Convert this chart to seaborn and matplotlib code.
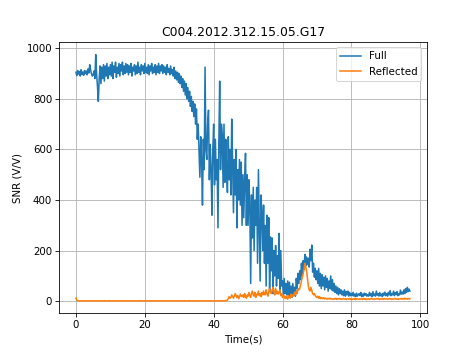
import numpy as np
import pandas as pd
import matplotlib
matplotlib.use("Agg")
import matplotlib.pyplot as plt
import seaborn as sns

title = "C004.2012.312.15.05.G17"
series_names = ["Full", "Reflected"]

# time samples every 0.25 s from 0 to 97 s
time_s = np.arange(0, 97.01, 0.25)

full_snr = [
    905, 892, 912, 898, 908, 890, 915, 896, 906, 893, 912, 900, 910, 895, 918, 902, 935, 915, 900, 890,
    895, 910, 880, 975, 900, 850, 790, 880, 930, 860, 925, 880, 935, 870, 930, 890, 940, 880, 925, 895,
    935, 890, 945, 880, 930, 905, 945, 885, 925, 900, 940, 890, 935, 910, 945, 895, 930, 900, 940, 905,
    935, 895, 930, 905, 940, 890, 925, 910, 935, 895, 930, 900, 945, 905, 925, 895, 935, 910, 930, 900,
    940, 905, 925, 900, 935, 895, 930, 910, 940, 900, 925, 905, 935, 895, 930, 905, 940, 900, 930, 910,
    935, 900, 930, 905, 925, 895, 935, 905, 920, 895, 930, 900, 915, 890, 925, 880, 910, 875, 905, 865,
    900, 860, 890, 845, 880, 830, 870, 815, 860, 800, 845, 790, 830, 770, 810, 750, 790, 730, 780, 700,
    760, 640, 700, 600, 490, 650, 560, 380, 640, 520, 925, 600, 560, 700, 755, 480, 620, 520, 340, 600,
    700, 460, 640, 480, 560, 290, 620, 870, 520, 700, 660, 450, 700, 470, 640, 520, 430, 650, 480, 600,
    420, 720, 550, 350, 560, 420, 600, 290, 520, 400, 560, 380, 550, 300, 500, 330, 480, 585, 300, 500,
    300, 480, 380, 70, 420, 250, 450, 200, 400, 300, 450, 150, 520, 300, 80, 420, 350, 200, 380, 150,
    300, 60, 340, 150, 330, 40, 254, 120, 250, 30, 200, 100, 220, 60, 180, 90, 268, 40, 200, 60,
    80, 20, 90, 30, 70, 25, 80, 15, 75, 20, 60, 15, 70, 25, 55, 20, 90, 50, 110, 70,
    120, 85, 150, 100, 160, 125, 185, 140, 175, 145, 170, 135, 205, 160, 222, 115, 150, 95, 130, 85,
    120, 70, 130, 60, 110, 50, 105, 60, 95, 45, 100, 55, 90, 40, 80, 50, 100, 45, 85, 40,
    70, 35, 60, 30, 55, 25, 50, 30, 45, 25, 40, 22, 45, 20, 38, 25, 40, 20, 35, 22,
    30, 22, 35, 20, 28, 18, 32, 20, 25, 30, 22, 35, 18, 28, 20, 32, 24, 30, 20, 26,
    20, 35, 22, 30, 18, 38, 22, 28, 20, 40, 24, 30, 20, 34, 22, 28, 18, 32, 24, 36,
    22, 30, 20, 35, 25, 42, 22, 30, 25, 40, 22, 34, 26, 38, 22, 30, 25, 44, 28, 36,
    28, 45, 30, 50, 35, 55, 38, 48, 40,
]

reflected_snr = [
    12, 4, 1, 2, 1, 2, 1, 1, 2, 1, 1, 2, 1, 1, 2, 1, 2, 1, 1, 2,
    1, 1, 2, 1, 2, 1, 1, 2, 1, 1, 2, 1, 1, 2, 1, 2, 1, 1, 2, 1,
    2, 1, 1, 2, 1, 1, 2, 1, 2, 1, 1, 2, 1, 2, 1, 1, 2, 1, 1, 2,
    1, 2, 1, 1, 2, 1, 2, 1, 1, 2, 1, 1, 2, 1, 2, 1, 1, 2, 1, 1,
    2, 1, 1, 2, 1, 2, 1, 1, 2, 1, 1, 2, 1, 1, 2, 1, 2, 1, 1, 2,
    1, 1, 2, 1, 2, 1, 1, 2, 1, 1, 2, 1, 1, 2, 1, 2, 1, 1, 2, 1,
    2, 1, 1, 2, 1, 1, 2, 1, 2, 1, 1, 2, 1, 2, 1, 1, 2, 1, 1, 2,
    1, 2, 1, 1, 2, 1, 2, 1, 1, 2, 1, 1, 2, 1, 2, 1, 1, 2, 1, 1,
    1, 2, 1, 1, 2, 1, 2, 1, 1, 2, 2, 1, 2, 1, 3, 2, 5, 10, 18, 12,
    15, 25, 18, 12, 20, 30, 22, 15, 22, 10, 18, 28, 20, 18, 25, 15, 30, 20, 12, 24,
    20, 35, 22, 15, 30, 40, 25, 20, 35, 15, 28, 25, 40, 22, 30, 18, 35, 25, 40, 28,
    25, 45, 30, 20, 35, 50, 38, 30, 45, 55, 35, 25, 51, 30, 40, 28, 35, 45, 22, 30,
    15, 25, 18, 10, 20, 12, 8, 22, 15, 12, 28, 18, 25, 20, 35, 25, 40, 30, 50, 45,
    50, 65, 80, 95, 110, 125, 150, 135, 120, 90, 60, 45, 40, 55, 42, 30, 25, 30, 22, 18,
    15, 20, 12, 18, 10, 15, 12, 10, 14, 9, 12, 10, 8, 11, 9, 12, 8, 10, 9, 7,
    10, 8, 12, 7, 10, 9, 11, 8, 10, 7, 9, 11, 8, 10, 7, 9, 10, 8, 11, 7,
    9, 7, 10, 8, 11, 6, 9, 10, 8, 7, 10, 8, 9, 7, 11, 8, 10, 6, 9, 8,
    10, 7, 9, 11, 8, 9, 7, 10, 8, 9, 11, 8, 10, 7, 9, 8, 10, 7, 11, 8,
    9, 10, 7, 9, 11, 8, 10, 7, 9, 8, 10, 11, 8, 9, 7, 10, 8, 9, 11, 8,
    11, 8, 12, 9, 10, 8, 11, 9, 10,
]

df = pd.DataFrame({
    "t": np.concatenate([time_s, time_s]),
    "snr": np.array(full_snr + reflected_snr, dtype=float),
    "series": [series_names[0]] * len(time_s) + [series_names[1]] * len(time_s),
})

plt.rcParams["font.family"] = ["DejaVu Sans"]
fig, ax = plt.subplots(figsize=(474 / 74, 352 / 74), dpi=74)
sns.lineplot(data=df, x="t", y="snr", hue="series",
             palette=["#1f77b4", "#ff7f0e"], linewidth=1.5, ax=ax,
             estimator=None, sort=False)
ax.set_title(title)
ax.set_xlabel("Time(s)")
ax.set_ylabel("SNR (V/V)")
ax.grid(True)
ax.legend(title=None, loc="upper right")
fig.savefig("out.png", dpi=74)
